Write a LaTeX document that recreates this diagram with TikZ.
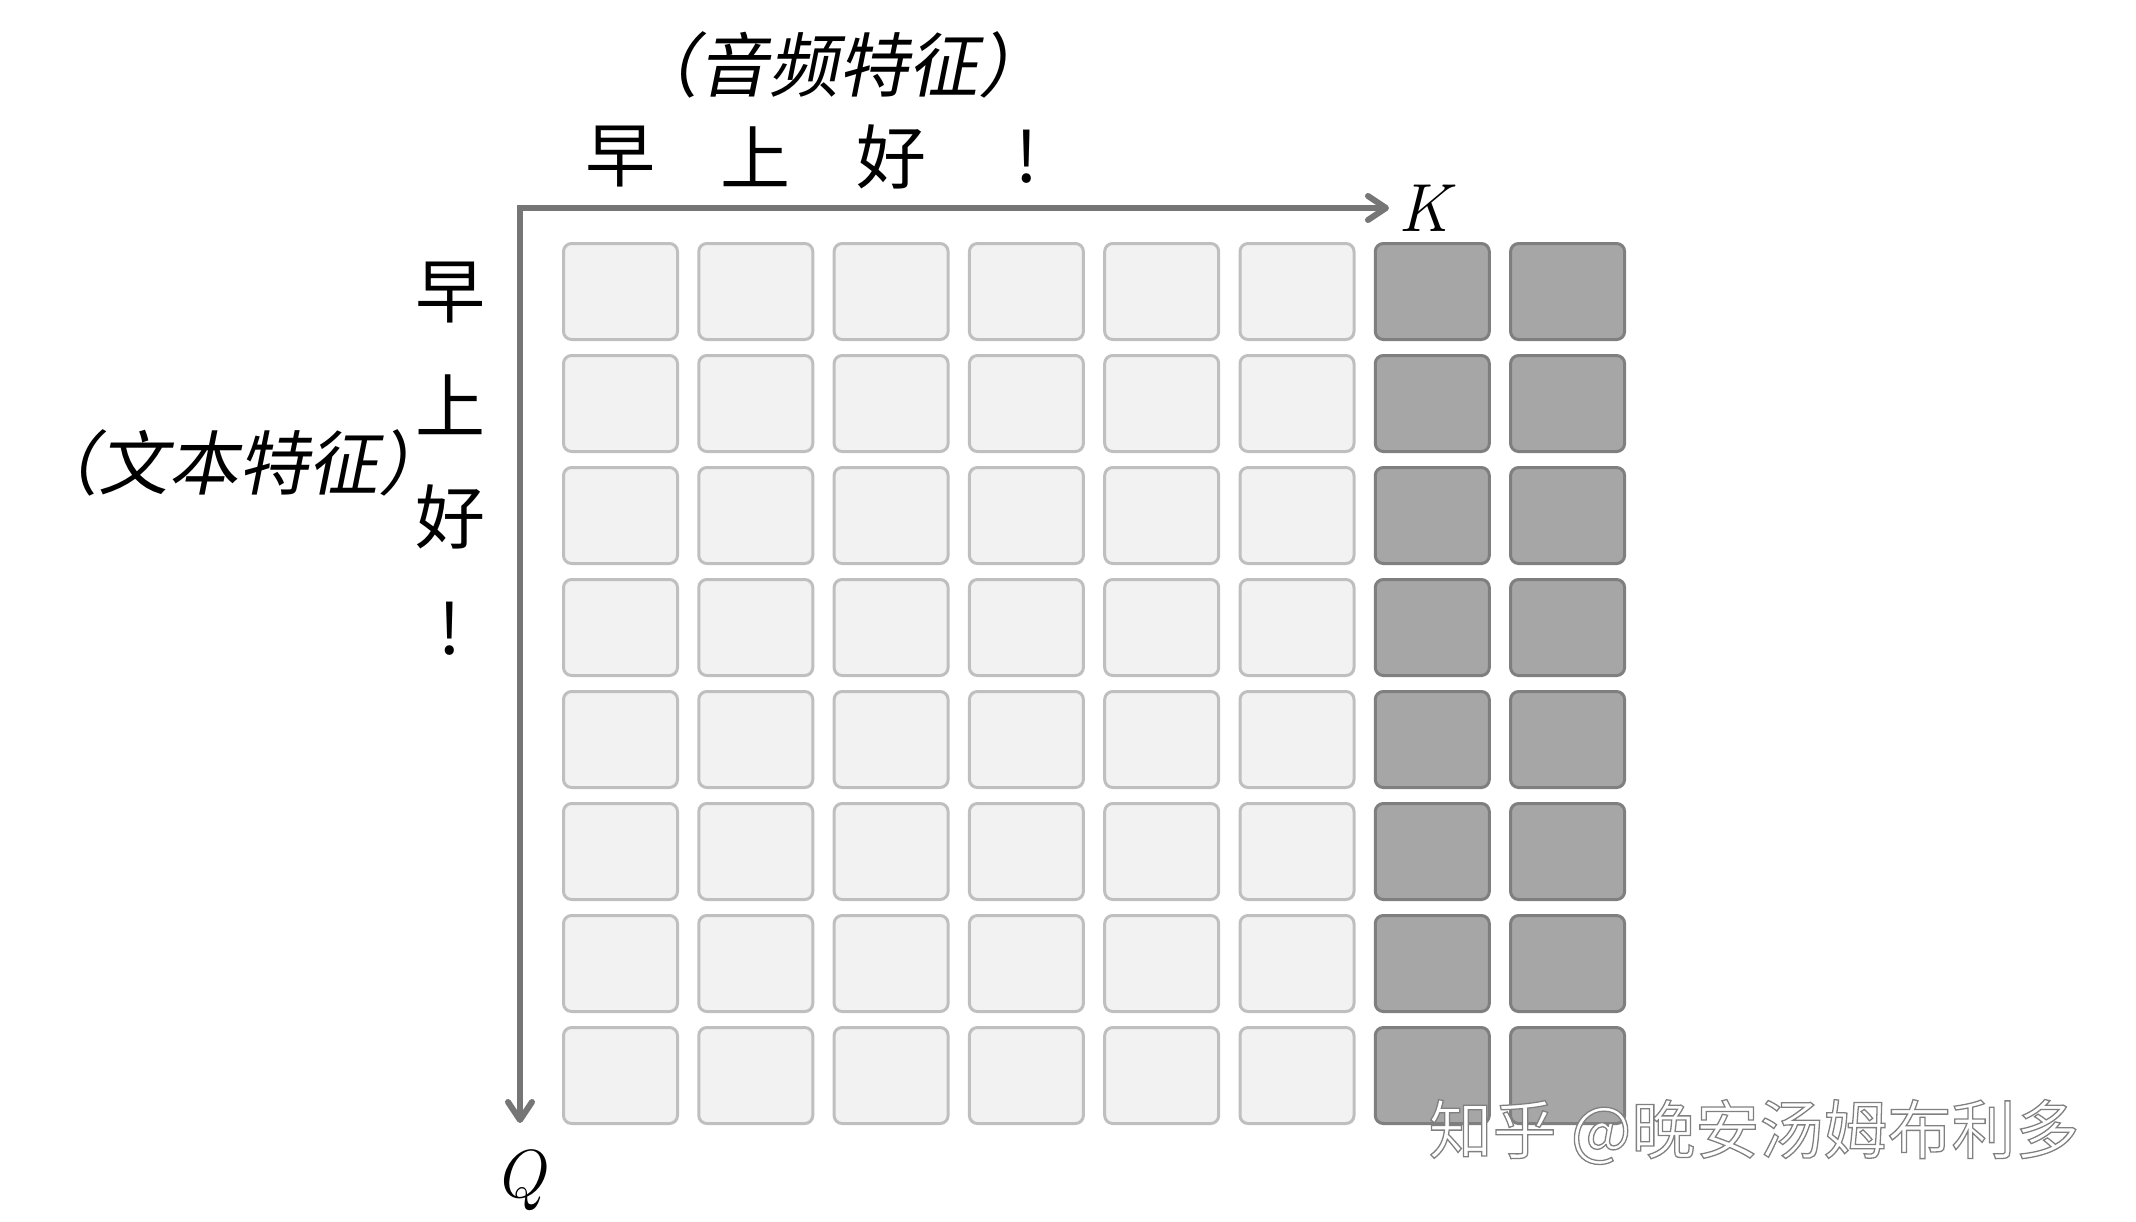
\documentclass[tikz,border=0pt]{standalone}
\usepackage{fontspec}
\usepackage{tikz}
\usetikzlibrary{positioning, arrows.meta}

\newfontfamily\cjk{Noto Sans CJK SC}
\newfontfamily\cjkslant[FakeSlant=0.2]{Noto Sans CJK SC}
\newfontfamily\cjkheavy[FakeBold=2]{Noto Sans CJK SC}

\definecolor{cellfill}{HTML}{F2F2F2}
\definecolor{celledge}{HTML}{BFBFBF}
\definecolor{maskfill}{HTML}{A6A6A6}
\definecolor{maskedge}{HTML}{7F7F7F}
\definecolor{axisgray}{HTML}{767676}

% outlined white text (fill white, stroke gray)
\newcommand{\outlined}[1]{\textcolor{white}{\special{pdf:literal direct 0.5 G 1.6 w 2 Tr}#1\special{pdf:literal direct 0 Tr}}}
% trim the blank half of the full-width brackets
\newcommand{\trimmed}[1]{\kern-0.5em#1\kern-0.5em}

\tikzset{
    cell/.style={draw=celledge, fill=cellfill, line width=1.5pt, rounded corners=4pt,
        minimum width=57pt, minimum height=48pt, inner sep=0pt, outer sep=0pt},
    maskcell/.style={cell, draw=maskedge, fill=maskfill},
    axis/.style={draw=axisgray, line width=3pt,
        {Straight Barb[length=9pt,width=12pt,round]}-{Straight Barb[length=9pt,width=12pt,round]}},
    word/.style={font=\cjk\fontsize{35pt}{35pt}\selectfont, inner sep=0pt},
    sideword/.style={word, inner sep=-4pt},
    feature/.style={font=\cjkslant\fontsize{35pt}{35pt}\selectfont, inner sep=0pt},
    axlabel/.style={font=\fontsize{34pt}{34pt}\selectfont\itshape, inner sep=0pt},
    watermark/.style={font=\cjkheavy\fontsize{32pt}{32pt}\selectfont, inner sep=0pt},
}

\begin{document}
\begin{tikzpicture}[x=0.5pt, y=-0.5pt]
    \useasboundingbox (0,0) rectangle (2136,1221);

    % Cells
    \foreach \r in {0,...,7} {
        \foreach \c in {0,...,5}
            \node[cell] (cell-\r-\c) at (620.5+135.3*\c, 291.5+112*\r) {};
        \foreach \c in {6,7}
            \node[maskcell] (cell-\r-\c) at (620.5+135.3*\c, 291.5+112*\r) {};
    }

    % Axes
    \coordinate (O) at (520, 208);
    \coordinate (Kend) at (1389, 208);
    \coordinate (Qend) at (520, 1123);
    \draw[axis] (Kend) -- (O) -- (Qend);
    \node[axlabel, right=4.5pt of Kend] (K) {K};
    \node[axlabel, below=13pt of Qend] (Q) {Q};

    % Labels
    \node[feature] (audio) at (838, 65) {\trimmed{（音频特征）}};
    \node[feature] (text) at (238, 463) {\trimmed{（文本特征）}};
    \foreach \w [count=\k from 0] in {早,上,好,!} {
        \node[word] (top\k) at (620.5+135.3*\k, 157) {\w};
        \node[sideword] (side\k) at (450, 293+112*\k) {\w};
    }

    % Watermark
    \node[watermark] (wm) at (1754, 1132) {\outlined{知乎 @晚安汤姆布利多}};
\end{tikzpicture}
\end{document}
